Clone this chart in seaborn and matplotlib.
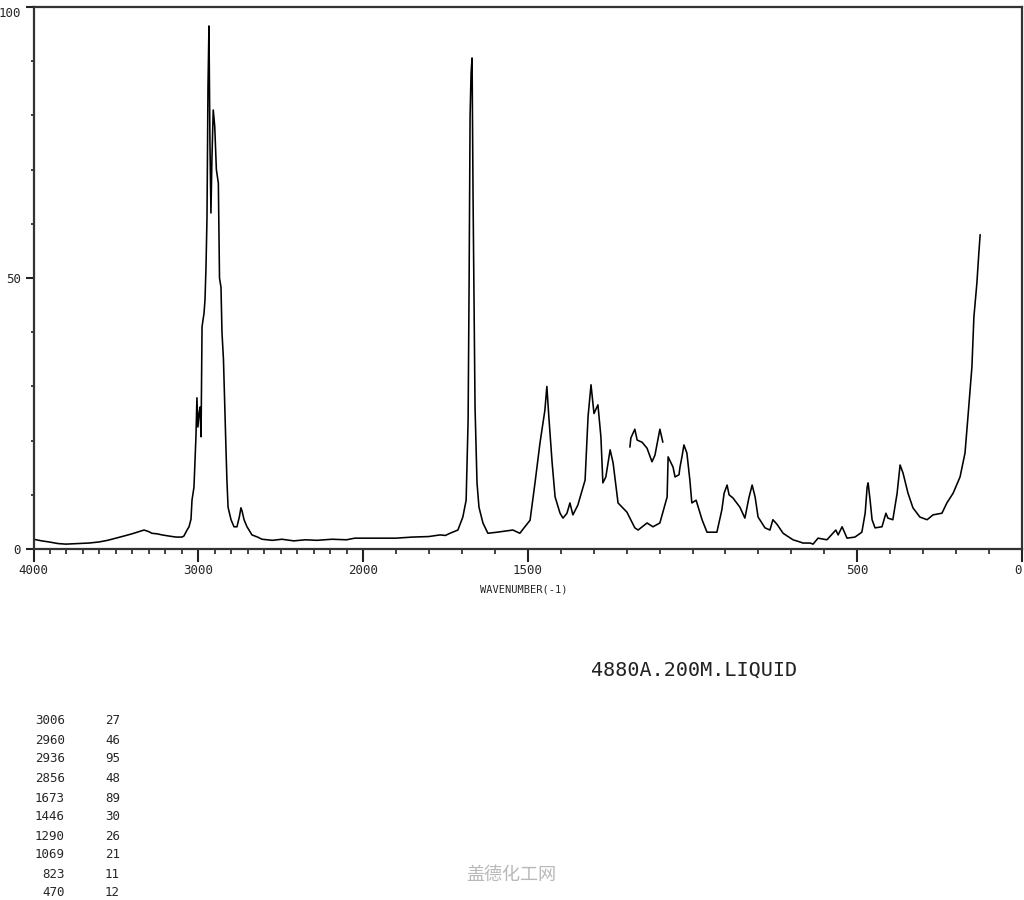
import numpy as np
import pandas as pd
import matplotlib
matplotlib.use("Agg")
import matplotlib.pyplot as plt
import seaborn as sns
from matplotlib.ticker import FixedLocator, NullFormatter

# Raman spectrum (wavenumber, intensity)
wavenumber = [
    4000, 3950, 3906, 3850, 3803, 3730, 3663, 3602, 3550, 3499, 3450, 3402,
    3360, 3329, 3300, 3281, 3250, 3220, 3180, 3135, 3099, 3087, 3068, 3056,
    3044, 3038, 3026, 3014, 3008, 3002, 2995, 2989, 2983, 2977, 2965, 2959,
    2953, 2947, 2941, 2935, 2929, 2923, 2917, 2909, 2900, 2890, 2878, 2871,
    2862, 2856, 2847, 2838, 2832, 2826, 2819, 2801, 2783, 2765, 2750, 2741,
    2734, 2722, 2704, 2674, 2640, 2613, 2550, 2492, 2420, 2350, 2280, 2188,
    2100, 2050, 2000, 1900, 1850, 1800, 1766, 1750, 1736, 1712, 1697, 1687,
    1681, 1678, 1675, 1672, 1669, 1666, 1660, 1654, 1648, 1636, 1621, 1593,
    1570, 1545, 1524, 1510, 1493, 1478, 1463, 1448, 1442, 1436, 1426, 1417,
    1402, 1393, 1381, 1372, 1363, 1348, 1326, 1317, 1308, 1299, 1287, 1278,
    1272, 1263, 1250, 1241, 1226, 1199, 1175, 1165, 1138, 1120, 1099, 1077,
    1074, 1059, 1053, 1041, 1038, 1032, 1026, 1017, 1008, 1002, 989, 971,
    956, 926, 911, 904, 895, 889, 877, 856, 841, 829, 819, 810, 801, 780,
    765, 756, 744, 725, 695, 674, 665, 643, 634, 619, 592, 574, 565, 558,
    546, 531, 507, 486, 476, 470, 467, 461, 455, 446, 425, 413, 407, 392,
    379, 370, 361, 346, 331, 310, 288, 270, 243, 228, 209, 188, 173, 164,
    152, 146, 137, 131, 127,
]
intensity = [
    1.8, 1.5, 1.3, 1.0, 0.9, 1.0, 1.1, 1.3, 1.6, 2.0, 2.4, 2.8,
    3.2, 3.5, 3.2, 2.9, 2.8, 2.6, 2.4, 2.2, 2.2, 2.4, 3.5, 4.1,
    5.5, 9.0, 11.4, 20.7, 27.9, 22.5, 25.0, 26.2, 20.7, 41.0, 43.5, 46.0,
    52.0, 61.0, 85.0, 96.5, 75.0, 62.0, 72.0, 81.0, 78.0, 70.0, 67.5, 50.0,
    48.3, 40.0, 35.0, 25.0, 18.8, 12.7, 7.7, 5.4, 4.1, 4.1, 6.0, 7.6,
    7.0, 5.4, 4.1, 2.6, 2.2, 1.8, 1.6, 1.8, 1.5, 1.7, 1.6, 1.8,
    1.7, 2.0, 2.0, 2.0, 2.2, 2.3, 2.6, 2.5, 2.9, 3.5, 5.9, 9.0,
    23.8, 49.0, 80.0, 87.8, 90.6, 65.0, 26.2, 12.2, 7.7, 4.8, 2.9, 3.1,
    3.3, 3.5, 2.9, 4.0, 5.3, 12.2, 19.5, 25.6, 30.0, 24.4, 15.9, 9.6,
    6.6, 5.7, 6.6, 8.5, 6.3, 8.1, 12.7, 24.4, 30.3, 25.0, 26.6, 20.7,
    12.2, 13.3, 18.3, 15.9, 8.5, 6.8, 3.9, 3.5, 4.8, 4.1, 4.8, 9.6,
    17.0, 15.1, 13.3, 13.7, 15.1, 17.0, 19.2, 17.7, 12.7, 8.5, 9.0, 5.4,
    3.1, 3.1, 7.2, 10.3, 11.8, 10.0, 9.4, 7.7, 5.7, 9.4, 11.8, 9.6, 5.9, 3.9,
    3.5, 5.4, 4.6, 2.9, 1.7, 1.3, 1.1, 1.1, 0.9, 2.0, 1.7, 2.9, 3.5, 2.6,
    4.1, 2.0, 2.2, 3.1, 6.6, 11.4, 12.2, 9.0, 5.4, 3.9, 4.1, 6.6, 5.7, 5.4,
    10.3, 15.5, 14.0, 10.3, 7.6, 5.9, 5.4, 6.3, 6.6, 8.5, 10.3, 13.3, 17.7, 24.4,
    33.6, 42.8, 49.0, 54.6, 58.0,
]

# detached piece of the trace near 1100-1190
frag_wavenumber = [1190, 1187, 1175, 1168, 1153, 1138, 1123, 1114, 1099, 1090]
frag_intensity = [18.8, 20.5, 22.1, 20.1, 19.7, 18.6, 16.1, 17.3, 22.1, 19.7]

# peak table printed under the chart
peak_pos = ["3006", "2960", "2936", "2856", "1673", "1446", "1290", "1069", "823", "470"]
peak_int = ["27", "46", "95", "48", "89", "30", "26", "21", "11", "12"]

major_x = [4000, 3000, 2000, 1500, 500, 0]
major_y = [0, 50, 100]


# axis is compressed by half above 2000 cm-1
def fwd(x):
    x = np.asarray(x, dtype=float)
    return np.where(x > 2000, 2000 + (x - 2000) / 2, x)


def inv(u):
    u = np.asarray(u, dtype=float)
    return np.where(u > 2000, 2000 + (u - 2000) * 2, u)


sns.set_style("white")
plt.rcParams["font.family"] = ["DejaVu Sans Mono", "Noto Sans CJK SC"]

fig = plt.figure(figsize=(10.24, 9), dpi=100)
ax = fig.add_axes([33.5 / 1024, 1 - 549 / 900, (1022 - 33.5) / 1024, (549 - 7) / 900])

df = pd.DataFrame({"wn": wavenumber, "I": intensity})
frag = pd.DataFrame({"wn": frag_wavenumber, "I": frag_intensity})
sns.lineplot(data=df, x="wn", y="I", color="black", linewidth=1.15, ax=ax, sort=False)
sns.lineplot(data=frag, x="wn", y="I", color="black", linewidth=1.15, ax=ax, sort=False)

ax.set_xscale("function", functions=(fwd, inv))
ax.set_xlim(4000, 0)
ax.set_ylim(0, 100)

ax.xaxis.set_major_locator(FixedLocator(major_x))
ax.xaxis.set_minor_locator(FixedLocator(list(range(0, 4001, 100))))
ax.xaxis.set_minor_formatter(NullFormatter())
ax.set_xticklabels([str(v) for v in major_x])
ax.yaxis.set_major_locator(FixedLocator(major_y))
ax.yaxis.set_minor_locator(FixedLocator(list(range(0, 101, 10))))
ax.set_yticklabels([str(v) for v in major_y])

ax.tick_params(axis="x", which="major", direction="out", length=9, width=1.5, pad=2, labelsize=9, color="#222222")
ax.tick_params(axis="x", which="minor", direction="out", length=3.5, width=1.2, color="#222222")
ax.tick_params(axis="y", which="major", direction="out", length=6, width=1.5, pad=3, labelsize=9, color="#222222")
ax.tick_params(axis="y", which="minor", direction="out", length=2, width=1.2, color="#222222")
ax.xaxis.set_ticks_position("bottom")
ax.yaxis.set_ticks_position("left")

# keep the end labels inside the canvas
ax.yaxis.get_major_ticks()[-1].label1.set_va("top")
ax.xaxis.get_major_ticks()[-1].label1.set_ha("right")

for s in ax.spines.values():
    s.set_color("#333333")
    s.set_linewidth(1.6)
ax.set_xlabel("")
ax.set_ylabel("")

fig.text(524 / 1024, 1 - 590 / 900, "WAVENUMBER(-1)", fontsize=7.5, ha="center", va="center")
fig.text(694 / 1024, 1 - 670 / 900, "4880A.200M.LIQUID", fontsize=14.5, ha="center", va="center", color="#222222")

row_y = [721, 740, 759, 779, 798, 817, 836, 855, 874, 893]
for p, v, y in zip(peak_pos, peak_int, row_y):
    fig.text(65 / 1024, 1 - y / 900, p, fontsize=9, ha="right", va="center")
    fig.text(120 / 1024, 1 - y / 900, v, fontsize=9, ha="right", va="center")

fig.text(511 / 1024, 1 - 875 / 900, "盖德化工网", fontsize=13, ha="center", va="center",
         color="#b8b8b8", family=["Noto Sans CJK SC", "DejaVu Sans"])

fig.savefig("out.png", dpi=100)
